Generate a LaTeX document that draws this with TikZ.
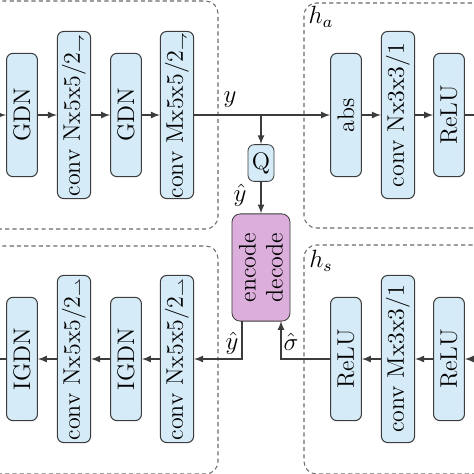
\documentclass[tikz,border=0pt]{standalone}
\usepackage{amsmath}
\usepackage{amssymb}
\usetikzlibrary{arrows}
\usetikzlibrary{positioning}
\definecolor{BoxBlue}{HTML}{D6EBF8}
\definecolor{BoxPink}{HTML}{DCAEDC}
\definecolor{LineGray}{HTML}{3C3C3C}
\definecolor{FrameGray}{HTML}{6A6A6A}

\begin{document}
\begin{tikzpicture}[x=0.016878cm, y=-0.016878cm,
  every node/.style={font=\fontsize{11.5pt}{13pt}\selectfont},
  layer/.style={draw=LineGray, fill=BoxBlue, rounded corners=3pt, rotate=90,
    inner sep=0pt, line width=0.5pt},
  layershort/.style={layer, minimum width=2.08cm, minimum height=0.52cm},
  layerlong/.style={layer, minimum width=2.82cm, minimum height=0.56cm},
  stage/.style={draw=FrameGray, dash pattern=on 2pt off 1.5pt, rounded corners=6pt, line width=0.5pt},
  flow/.style={draw=LineGray, -latex, line width=0.5pt}]
  \useasboundingbox (0,0) rectangle (474,474);
  \clip (0,0) rectangle (474,474);

  % dashed groups
  \draw[stage] (-40,1) rectangle (218,229);
  \draw[stage] (304,3) rectangle (520,228);
  \draw[stage] (-40,246) rectangle (218,474);
  \draw[stage] (304,245) rectangle (520,474);

  \node at (321,17) {$h_a$};
  \node at (321,261) {$h_s$};

  % analysis
  \node[layershort] (gdnA)  at (22,115)  {GDN};
  \node[layerlong]  (convA) at (74,115)  {conv Nx5x5/2$_{\rightharpoondown}$};
  \node[layershort] (gdnB)  at (126,115) {GDN};
  \node[layerlong]  (convB) at (177,115) {conv Mx5x5/2$_{\rightharpoondown}$};
  \node[layershort] (absA)  at (346,115) {abs};
  \node[layerlong]  (convC) at (398,115) {conv Nx3x3/1};
  \node[layershort] (reluA) at (449,115) {ReLU};

  % synthesis
  \node[layershort] (igdnA) at (22,359)  {IGDN};
  \node[layerlong]  (convD) at (74,359)  {conv Nx5x5/2$_{\rightharpoonup}$};
  \node[layershort] (igdnB) at (126,359) {IGDN};
  \node[layerlong]  (convE) at (177,359) {conv Nx5x5/2$_{\rightharpoonup}$};
  \node[layershort] (reluB) at (346,359) {ReLU};
  \node[layerlong]  (convF) at (398,359) {conv Mx3x3/1};
  \node[layershort] (reluC) at (449,359) {ReLU};

  \node[draw=LineGray, fill=BoxBlue, rounded corners=3pt, inner sep=0pt,
    minimum width=0.44cm, minimum height=0.62cm] (quant) at (261,163) {Q};
  \node[draw=LineGray, fill=BoxPink, rounded corners=4pt, rotate=90, align=center,
    inner sep=0pt, minimum width=1.81cm, minimum height=0.98cm] (coder) at (261,267.5)
    {encode\\decode};

  \coordinate (inA)   at (0,115);
  \coordinate (split) at (261,115);
  \coordinate (outA)  at (474,115);
  \coordinate (inB)   at (474,359);
  \coordinate (outB)  at (0,359);
  \coordinate (sigmaIn) at (281,321);
  \coordinate (yhatOut) at (242,321);

  \draw[flow] (inA) -- (gdnA);
  \draw[flow] (gdnA) -- (convA);
  \draw[flow] (convA) -- (gdnB);
  \draw[flow] (gdnB) -- (convB);
  \draw[flow] (convB) -- (absA);
  \draw[flow] (absA) -- (convC);
  \draw[flow] (convC) -- (reluA);
  \draw[draw=LineGray, line width=0.5pt] (reluA) -- (outA);
  \draw[flow] (split) -- (quant);
  \draw[flow] (quant) -- (coder);

  \draw[flow] (inB) -- (reluC);
  \draw[flow] (reluC) -- (convF);
  \draw[flow] (convF) -- (reluB);
  \draw[flow] (reluB) -| (sigmaIn);
  \draw[flow] (yhatOut) |- (convE);
  \draw[flow] (convE) -- (igdnB);
  \draw[flow] (igdnB) -- (convD);
  \draw[flow] (convD) -- (igdnA);
  \draw[draw=LineGray, line width=0.5pt] (igdnA) -- (outB);

  \node at (230,100) {$y$};
  \node at (240,195) {$\hat{y}$};
  \node at (232,343) {$\hat{y}$};
  \node at (291,342) {$\hat{\sigma}$};
\end{tikzpicture}
\end{document}
